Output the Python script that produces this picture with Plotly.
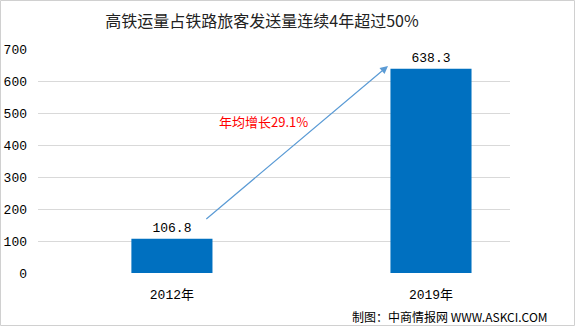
import plotly.graph_objects as go

categories = ["2012年", "2019年"]
values = [106.8, 638.3]
value_labels = ["106.8", "638.3"]
y_ticks = [0, 100, 200, 300, 400, 500, 600, 700]
title_text = "高铁运量占铁路旅客发送量连续4年超过50%"
growth_text = "年均增长29.1%"
source_text = "制图：中商情报网 WWW.ASKCI.COM"

x_pos = list(range(len(categories)))
mono = "Liberation Mono, Noto Sans CJK SC, monospace"

L, R, T, B = 38, 65, 49, 53
W, H = 575, 326
pw = W - L - R
ph = H - T - B

fig = go.Figure()
fig.add_trace(go.Bar(
    x=x_pos, y=values, width=0.313,
    marker=dict(color="#0070C0", line=dict(width=0)),
    text=value_labels, textposition="outside",
    textfont=dict(family=mono, size=13, color="#000000"),
    cliponaxis=False,
))

fig.update_layout(
    width=W, height=H,
    margin=dict(l=L, r=R, t=T, b=B, autoexpand=False),
    paper_bgcolor="white", plot_bgcolor="white",
    showlegend=False,
    title=dict(text=title_text, x=262/W, xanchor="center", y=1-21/H, yanchor="middle",
               font=dict(family="Noto Sans CJK SC", size=16, color="#222222")),
    xaxis=dict(range=[-0.517, 1.305], tickvals=x_pos, ticktext=categories,
               showgrid=False, zeroline=False, showline=False, ticks="", automargin=False,
               tickfont=dict(family=mono, size=13, color="#000000"), ticklabelstandoff=12),
    yaxis=dict(range=[0, 700], tickvals=y_ticks, showgrid=True, gridcolor="#D9D9D9",
               gridwidth=1, zeroline=False, showline=False, ticks="", automargin=False,
               tickfont=dict(family=mono, size=13, color="#000000"), ticklabelstandoff=10),
)

# growth arrow
fig.add_annotation(x=0.834, y=647, ax=0.127, ay=165, xref="x", yref="y", axref="x", ayref="y",
                   text="", showarrow=True, arrowhead=2, arrowsize=1.3, arrowwidth=1.2,
                   arrowcolor="#5B9BD5")
fig.add_annotation(x=0.355, y=472, xref="x", yref="y", text=growth_text, showarrow=False,
                   font=dict(family="Noto Sans CJK SC", size=13, color="#FF0000"))
fig.add_annotation(x=(550 - L) / pw, y=(H - B - 316) / ph, xref="paper", yref="paper",
                   xanchor="right", yanchor="middle",
                   text=source_text, showarrow=False,
                   font=dict(family="Noto Sans CJK SC, Liberation Mono", size=12, color="#000000"))
# border
fig.add_shape(type="rect", xref="paper", yref="paper",
              x0=(-L + 0.5) / pw, x1=(W - L - 0.5) / pw,
              y0=(-B + 0.5) / ph, y1=(H - B - 0.5) / ph,
              line=dict(color="#D0D0D0", width=1))

fig.write_html("out.html")
